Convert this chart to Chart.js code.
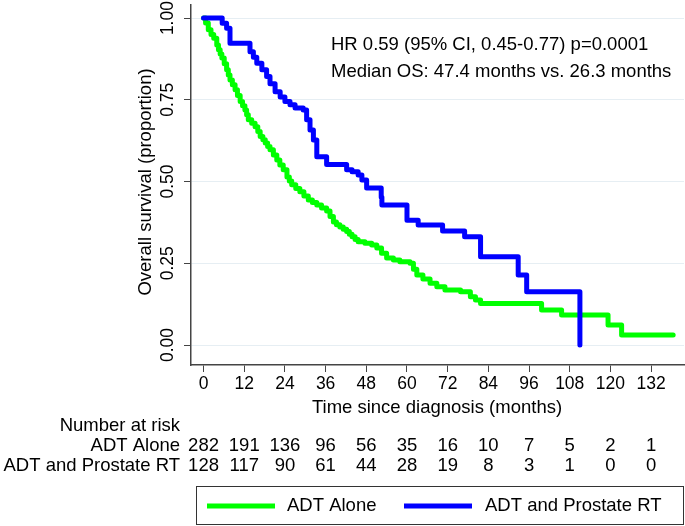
<!DOCTYPE html>
<html>
<head>
<meta charset="utf-8">
<script src="https://cdn.jsdelivr.net/npm/chart.js@4.4.1/dist/chart.umd.min.js"></script>
<style>
    html, body { margin: 0; padding: 0; background: #fff; }
    canvas { display: block; }
</style>
</head>
<body>
<canvas id="km-chart" width="685" height="526"></canvas>
<script>
// --- Data ---
const xTicks = [0, 12, 24, 36, 48, 60, 72, 84, 96, 108, 120, 132];
const yTicks = [0, 0.25, 0.5, 0.75, 1];
const yTickLabels = ['0.00', '0.25', '0.50', '0.75', '1.00'];

// ADT Alone (green): time of each step (months) and survival after it
const adtTimes = [0, 0.6, 1.4, 2.2, 3.0, 3.9, 4.4, 4.9, 5.4, 6.1, 6.8, 7.3, 7.8, 8.5, 9.3, 10.0, 10.8, 11.5, 12.2, 12.7,
    13.2, 14.2, 15.2, 16.0, 16.7, 17.5, 18.2, 18.9, 19.6, 20.6, 21.6, 22.5, 23.5, 24.6, 25.3, 26.0, 27.2, 28.4, 29.6, 30.9,
    32.1, 33.4, 34.8, 36.3, 37.3, 38.3, 39.2, 40.2, 41.2, 42.2, 43.0, 43.8, 44.7, 45.6, 47.6, 49.6, 51.1, 52.5, 54.0, 56.0,
    57.9, 60.9, 61.9, 62.9, 64.7, 66.8, 68.8, 71.2, 75.8, 78.7, 80.2, 81.7, 99.7, 105.6, 119.3, 123.3, 138.5];
const adtSurv = [1, 0.985, 0.964, 0.950, 0.938, 0.918, 0.903, 0.890, 0.878, 0.860, 0.842, 0.826, 0.811, 0.796, 0.781, 0.763, 0.745, 0.732, 0.719, 0.704,
    0.689, 0.678, 0.668, 0.653, 0.638, 0.628, 0.618, 0.607, 0.597, 0.581, 0.566, 0.551, 0.536, 0.514, 0.502, 0.490, 0.479, 0.469, 0.456, 0.444,
    0.436, 0.428, 0.419, 0.410, 0.393, 0.376, 0.368, 0.361, 0.354, 0.347, 0.339, 0.331, 0.323, 0.316, 0.311, 0.306, 0.297, 0.281, 0.266, 0.260,
    0.255, 0.250, 0.232, 0.214, 0.202, 0.189, 0.178, 0.168, 0.163, 0.148, 0.138, 0.127, 0.107, 0.092, 0.061, 0.031, 0.031];

// ADT and Prostate RT (blue)
const rtTimes = [0, 4.2, 5.5, 6.8, 7.8, 13.7, 14.7, 15.7, 17.2, 18.6, 19.6, 21.1, 22.6, 24.0, 25.5, 27.0, 29.4, 30.4, 31.4, 32.4,
    33.4, 36.3, 42.2, 43.8, 45.6, 46.7, 48.1, 52.4, 52.6, 60.0, 63.3, 70.5, 77.0, 81.7, 92.8, 95.3, 111.0];
const rtSurv = [1, 1, 0.984, 0.969, 0.923, 0.897, 0.880, 0.862, 0.842, 0.821, 0.799, 0.775, 0.759, 0.745, 0.735, 0.725, 0.719, 0.689, 0.658, 0.627,
    0.576, 0.552, 0.536, 0.530, 0.520, 0.505, 0.480, 0.452, 0.428, 0.382, 0.367, 0.349, 0.331, 0.270, 0.214, 0.163, 0];

// Number at risk
const riskAdt = [282, 191, 136, 96, 56, 35, 16, 10, 7, 5, 2, 1];
const riskRt = [128, 117, 90, 61, 44, 28, 19, 8, 3, 1, 0, 0];

const seriesNames = ['ADT Alone', 'ADT and Prostate RT'];
const seriesColors = ['#00ff00', '#0000ff'];
const annotationLines = ['HR 0.59 (95% CI, 0.45-0.77) p=0.0001', 'Median OS: 47.4 months vs. 26.3 months'];

const FONT = '"Liberation Sans", Arial, Helvetica, sans-serif';

function toPoints(times, surv) {
    return times.map((t, i) => ({ x: t, y: surv[i] }));
}

// --- Extra text: axis titles, rotated y labels, risk table, legend ---
const extrasPlugin = {
    id: 'extras',
    afterDraw(chart) {
        const ctx = chart.ctx;
        const xScale = chart.scales.x;
        const yScale = chart.scales.y;
        ctx.save();
        ctx.fillStyle = '#000';

        // y tick labels, rotated like the original
        ctx.font = `17.5px ${FONT}`;
        yTicks.forEach((v, i) => {
            ctx.save();
            ctx.translate(168, yScale.getPixelForValue(v));
            ctx.rotate(-Math.PI / 2);
            ctx.textAlign = 'center';
            ctx.textBaseline = 'middle';
            ctx.fillText(yTickLabels[i], 0, 0);
            ctx.restore();
        });

        ctx.font = `18.5px ${FONT}`;

        // y axis title
        ctx.save();
        ctx.translate(146, 182);
        ctx.rotate(-Math.PI / 2);
        ctx.textAlign = 'center';
        ctx.textBaseline = 'middle';
        ctx.fillText('Overall survival (proportion)', 0, 0);
        ctx.restore();

        // x axis title
        ctx.textAlign = 'center';
        ctx.textBaseline = 'middle';
        ctx.fillText('Time since diagnosis (months)', 437, 408);

        // annotation
        ctx.textAlign = 'left';
        ctx.fillText(annotationLines[0], 331, 45);
        ctx.fillText(annotationLines[1], 331, 72);

        // number at risk
        ctx.textAlign = 'right';
        ctx.fillText('Number at risk', 180, 426);
        ctx.fillText(seriesNames[0], 180, 446);
        ctx.fillText(seriesNames[1], 180, 466);
        ctx.textAlign = 'center';
        xTicks.forEach((t, i) => {
            const px = xScale.getPixelForValue(t);
            ctx.fillText(String(riskAdt[i]), px, 446);
            ctx.fillText(String(riskRt[i]), px, 466);
        });

        // legend box
        ctx.strokeStyle = '#333';
        ctx.lineWidth = 1;
        ctx.strokeRect(196.5, 486.5, 487, 38);
        ctx.lineWidth = 5;
        ctx.lineCap = 'butt';
        ctx.strokeStyle = seriesColors[0];
        ctx.beginPath(); ctx.moveTo(207, 506); ctx.lineTo(275, 506); ctx.stroke();
        ctx.strokeStyle = seriesColors[1];
        ctx.beginPath(); ctx.moveTo(404, 506); ctx.lineTo(472, 506); ctx.stroke();
        ctx.textAlign = 'left';
        ctx.fillText(seriesNames[0], 287, 506);
        ctx.fillText(seriesNames[1], 485, 506);

        ctx.restore();
    }
};

// --- Chart ---
const kmChart = new Chart(document.getElementById('km-chart'), {
    type: 'line',
    data: {
        datasets: [
            {
                label: seriesNames[1],
                data: toPoints(rtTimes, rtSurv),
                borderColor: seriesColors[1],
                borderWidth: 5,
                stepped: true,
                pointRadius: 0,
                fill: false,
                borderCapStyle: 'round',
                borderJoinStyle: 'round'
            },
            {
                label: seriesNames[0],
                data: toPoints(adtTimes, adtSurv),
                borderColor: seriesColors[0],
                borderWidth: 5,
                stepped: true,
                pointRadius: 0,
                fill: false,
                borderCapStyle: 'round',
                borderJoinStyle: 'round'
            }
        ]
    },
    options: {
        responsive: false,
        animation: false,
        layout: { padding: { top: 5, right: 1, left: 0, bottom: 0 } },
        plugins: {
            legend: { display: false },
            tooltip: { enabled: false }
        },
        scales: {
            x: {
                type: 'linear',
                min: -3.7,
                max: 141.7,
                afterBuildTicks: (scale) => { scale.ticks = xTicks.map(v => ({ value: v })); },
                afterFit: (scale) => { scale.height = 161; },
                grid: { drawOnChartArea: false, drawTicks: true, tickLength: 7, tickColor: '#444' },
                border: { color: '#444', width: 1.5 },
                ticks: {
                    color: '#000',
                    font: { family: FONT, size: 17.5 },
                    padding: 2,
                    maxRotation: 0,
                    autoSkip: false
                }
            },
            y: {
                type: 'linear',
                min: -0.061,
                max: 1.04,
                afterBuildTicks: (scale) => { scale.ticks = yTicks.map(v => ({ value: v })); },
                afterFit: (scale) => { scale.width = 191; },
                grid: { color: '#e6eef3', lineWidth: 1, drawTicks: true, tickLength: 7, tickColor: '#444' },
                border: { color: '#444', width: 1.5 },
                ticks: { display: false }
            }
        }
    },
    plugins: [extrasPlugin]
});
</script>
</body>
</html>
